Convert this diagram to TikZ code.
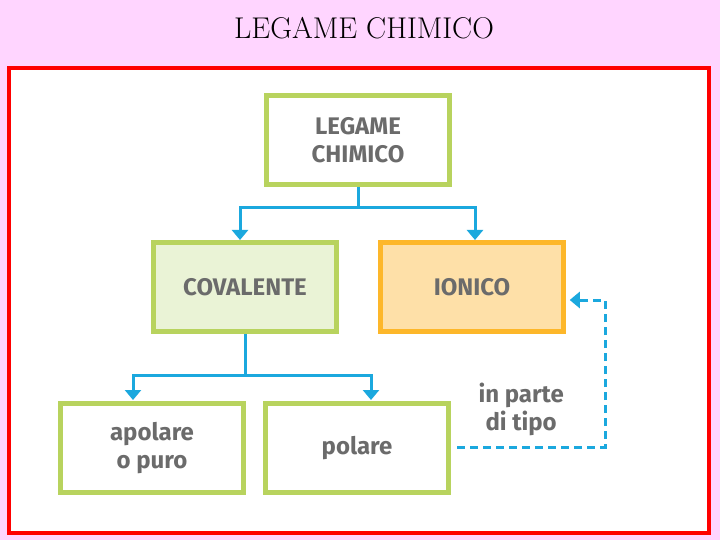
\documentclass[tikz,border=0pt]{standalone}
\usepackage{fontspec}
\setsansfont{Fira Sans}
\usetikzlibrary{positioning, arrows.meta}
\definecolor{bgpink}{HTML}{FFD5FF}
\definecolor{boxgreen}{HTML}{B8D35E}
\definecolor{fillgreen}{HTML}{EAF3D6}
\definecolor{boxorange}{HTML}{FDB72A}
\definecolor{fillorange}{HTML}{FEE0A8}
\definecolor{linkblue}{HTML}{1BA8DE}
\definecolor{textgray}{HTML}{6B6B6B}

\begin{document}
\begin{tikzpicture}[
  x=1pt, y=-1pt,
  every node/.style={font=\sffamily\bfseries\fontsize{24}{28}\selectfont, align=center, text=textgray},
  gbox/.style={rectangle, draw=boxgreen, line width=4.5pt, fill=white, minimum width=183pt, minimum height=89pt},
  cbox/.style={gbox, fill=fillgreen},
  ibox/.style={gbox, draw=boxorange, fill=fillorange},
  link/.style={draw=linkblue, line width=3pt, -{Triangle[length=10pt,width=16pt]}},
  >={Triangle[length=10pt,width=16pt]}
]
\useasboundingbox (0,0) rectangle (720,540);
\fill[bgpink] (0,0) rectangle (720,540);
\node[font=\rmfamily\fontsize{30}{32}\selectfont, text=black] (title) at (364,28) {LEGAME CHIMICO};
\draw[red, fill=white, line width=4.5pt] (9,68) rectangle (709,533);

% caselle
\node[gbox] (legame) at (358,140) {LEGAME\\CHIMICO};
\node[cbox] (covalente) at (245,287) {COVALENTE};
\node[ibox] (ionico) at (472,287) {IONICO};
\node[gbox] (apolare) at (152,448) {apolare\\o puro};
\node[gbox] (polare) at (357,448) {polare};
\node[anchor=north west] (tipo) at (475,380) {in parte\\di tipo};

% collegamenti
\coordinate (j1) at (358,208);
\coordinate (j2) at (245,375);
\draw[draw=linkblue, line width=3pt] (legame.south) -- (j1);
\draw[link] (j1) -| (240,240);
\draw[link] (j1) -| (475,240);
\draw[draw=linkblue, line width=3pt] (covalente.south) -- (j2);
\draw[link] (j2) -| (133,400);
\draw[link] (j2) -| (371,400);
\coordinate (d1) at (457,447);
\coordinate (d2) at (605,447);
\coordinate (d3) at (605,300);
\draw[link, dash pattern=on 8pt off 5pt] (d1) -- (d2) -- (d3) -- ([xshift=4pt]ionico.east |- d3);
\end{tikzpicture}
\end{document}
